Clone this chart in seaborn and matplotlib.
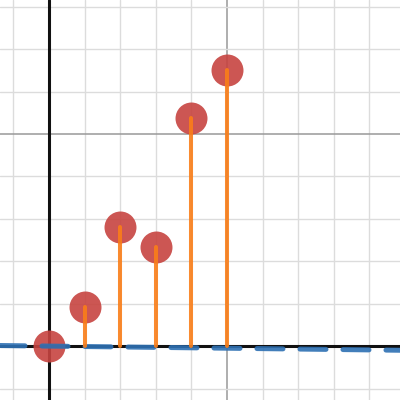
import matplotlib
matplotlib.use("Agg")
import matplotlib.pyplot as plt
import seaborn as sns
from matplotlib.ticker import MultipleLocator

# values
point_x = [0, 1, 2, 3, 4, 5]
point_y = [0.0, 0.93, 2.80, 2.34, 5.38, 6.51]
trend_x = [-1.45, 9.95]
trend_y = [0.015, -0.098]

RED = "#c74440"
BLUE = "#2d70b3"
ORANGE = "#fa7e19"

sns.set_theme(style="white")

fig = plt.figure(figsize=(4, 4), dpi=100)
ax = fig.add_axes([0, 0, 1, 1])

ax.set_xlim(-1.376, 9.86)
ax.set_ylim(-1.27, 8.16)

ax.xaxis.set_major_locator(MultipleLocator(5))
ax.xaxis.set_minor_locator(MultipleLocator(1))
ax.yaxis.set_major_locator(MultipleLocator(5))
ax.yaxis.set_minor_locator(MultipleLocator(1))
ax.grid(which="minor", color="#dcdcdc", linewidth=1.0)
ax.grid(which="major", color="#999999", linewidth=1.1)
ax.set_axisbelow(True)
ax.tick_params(which="both", length=0, labelbottom=False, labelleft=False)
for spine in ax.spines.values():
    spine.set_visible(False)

ax.axhline(0, color="#111111", linewidth=2.2, zorder=1.5)
ax.axvline(0, color="#111111", linewidth=2.2, zorder=1.5)

sns.scatterplot(x=point_x, y=point_y, s=530, color=RED, alpha=0.9,
                linewidth=0, zorder=3, ax=ax, legend=False)

sns.lineplot(x=trend_x, y=trend_y, color=BLUE, linewidth=3.6, alpha=0.9,
             linestyle=(0, (5.2, 3.4)), dash_capstyle="round",
             zorder=4, ax=ax, legend=False)

ax.vlines(point_x, 0, point_y, colors=ORANGE, linewidth=2.9, alpha=0.9,
          capstyle="round", zorder=5)

ax.set_xlabel("")
ax.set_ylabel("")

fig.savefig("out.png", dpi=100)
